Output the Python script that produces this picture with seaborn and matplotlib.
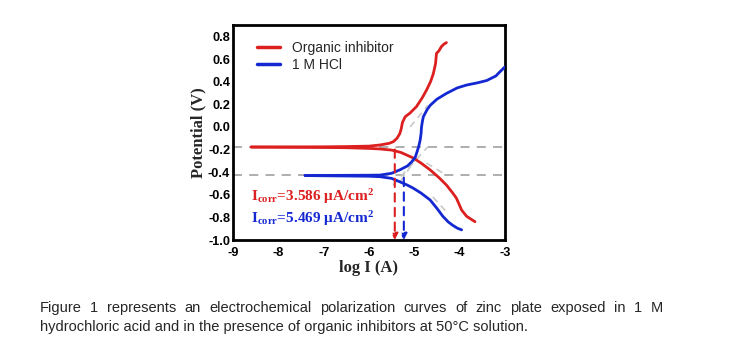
import numpy as np
import pandas as pd
import matplotlib
matplotlib.use("Agg")
import matplotlib.pyplot as plt
import seaborn as sns

# ---------------- data ----------------
red_cath_x = [-8.6, -8.0, -7.0, -6.5, -6.0, -5.76, -5.5, -5.3, -5.02, -4.85, -4.65, -4.45, -4.29, -4.15, -4.07, -3.955, -3.845, -3.75, -3.66]
red_cath_y = [-0.178, -0.18, -0.182, -0.184, -0.19, -0.195, -0.205, -0.225, -0.275, -0.32, -0.38, -0.45, -0.514, -0.585, -0.63, -0.735, -0.79, -0.815, -0.838]
red_anod_x = [-8.6, -8.0, -7.0, -6.5, -6.0, -5.76, -5.55, -5.46, -5.38, -5.32, -5.29, -5.26, -5.2, -5.1, -4.95, -4.82, -4.73, -4.64, -4.58, -4.53, -4.51, -4.46, -4.40, -4.35, -4.29]
red_anod_y = [-0.178, -0.177, -0.176, -0.174, -0.17, -0.16, -0.145, -0.13, -0.1, -0.06, -0.02, 0.04, 0.09, 0.12, 0.18, 0.26, 0.325, 0.40, 0.47, 0.56, 0.65, 0.67, 0.71, 0.73, 0.745]
blue_cath_x = [-7.41, -7.0, -6.5, -6.0, -5.76, -5.5, -5.32, -5.15, -5.03, -4.85, -4.65, -4.5, -4.37, -4.25, -4.15, -4.05, -3.955]
blue_cath_y = [-0.43, -0.432, -0.434, -0.436, -0.44, -0.455, -0.485, -0.515, -0.54, -0.585, -0.646, -0.72, -0.79, -0.84, -0.87, -0.895, -0.91]
blue_anod_x = [-7.41, -7.0, -6.5, -6.0, -5.76, -5.5, -5.32, -5.15, -5.06, -4.98, -4.95, -4.9, -4.87, -4.85, -4.84, -4.82, -4.80, -4.72, -4.65, -4.5, -4.29, -4.05, -3.845, -3.6, -3.4, -3.2, -3.11, -3.0]
blue_anod_y = [-0.43, -0.429, -0.428, -0.427, -0.426, -0.41, -0.38, -0.345, -0.31, -0.27, -0.234, -0.17, -0.117, -0.06, 0.0, 0.05, 0.09, 0.15, 0.19, 0.245, 0.296, 0.345, 0.37, 0.39, 0.41, 0.45, 0.487, 0.53]

# E_corr levels (gray dashed horizontals) and log Icorr (arrows)
ecorr_levels = [-0.176, -0.428]
arrow_x = [-5.43, -5.23]
arrow_top = [-0.2, -0.45]

# Tafel extrapolation segments: (x0, y0, x1, y1)
tafel_x0 = [-5.47, -5.09, -4.73, -4.59, -5.30]
tafel_y0 = [-0.515, 0.0, -0.32, -0.62, -0.48]
tafel_x1 = [-4.70, -4.70, -4.36, -4.29, -5.00]
tafel_y1 = [-0.176, 0.19, -0.41, -0.75, -0.30]

series_names = ["Organic inhibitor", "1 M HCl"]
icorr_texts = ["3.586", "5.469"]
xticks = [-9, -8, -7, -6, -5, -4, -3]
yticks = [0.8, 0.6, 0.4, 0.2, 0.0, -0.2, -0.4, -0.6, -0.8, -1.0]

caption1 = "Figure 1 represents an electrochemical polarization curves of zinc plate exposed in 1 M"
caption2 = "hydrochloric acid and in the presence of organic inhibitors at 50\u00b0C solution."

# ---------------- build table ----------------
frames = []
for name, branch, xs, ys in [
    (series_names[0], "rc", red_cath_x, red_cath_y),
    (series_names[0], "ra", red_anod_x, red_anod_y),
    (series_names[1], "bc", blue_cath_x, blue_cath_y),
    (series_names[1], "ba", blue_anod_x, blue_anod_y),
]:
    frames.append(pd.DataFrame({"logI": xs, "E": ys, "series": name, "branch": branch,
                                "order": range(len(xs))}))
df = pd.concat(frames, ignore_index=True)

RED = "#dc1f1f"
BLUE = "#1428d2"
GRAY = "#a8a8a8"

sns.set_style("white")
plt.rcParams["mathtext.fontset"] = "custom"
plt.rcParams["mathtext.rm"] = "Liberation Serif:bold"
plt.rcParams["mathtext.bf"] = "Liberation Serif:bold"
plt.rcParams["mathtext.it"] = "Liberation Serif:bold"

fig = plt.figure(figsize=(7.48, 3.53), dpi=100)
ax = fig.add_axes([0.3115, 0.320, 0.3635, 0.609])

# reference lines
for lv in ecorr_levels:
    ax.axhline(lv, color=GRAY, lw=1.3, ls=(0, (5, 4)), zorder=1)
for x0, y0, x1, y1 in zip(tafel_x0, tafel_y0, tafel_x1, tafel_y1):
    ax.plot([x0, x1], [y0, y1], color="#c8c8c8", lw=1.2, ls=(0, (4, 3)), zorder=1)

sns.lineplot(data=df, x="logI", y="E", hue="series", units="branch", estimator=None,
             sort=False, palette={series_names[0]: RED, series_names[1]: BLUE},
             lw=2.0, ax=ax, legend=False, zorder=3)

# icorr arrows
for xa, yt, c in zip(arrow_x, arrow_top, [RED, BLUE]):
    ax.annotate("", xy=(xa, -1.0), xytext=(xa, yt),
                arrowprops=dict(arrowstyle="-|>", color=c, lw=1.5, ls=(0, (4, 3)),
                                mutation_scale=9, shrinkA=0, shrinkB=0), zorder=4)

# Icorr texts
ax.text(-8.6, -0.615, r"I$_{\mathbf{corr}}$=" + icorr_texts[0] + r" μA/cm$^{\mathbf{2}}$",
        color=RED, fontsize=11, fontfamily="Liberation Serif", fontweight="bold", va="center")
ax.text(-8.6, -0.81, r"I$_{\mathbf{corr}}$=" + icorr_texts[1] + r" μA/cm$^{\mathbf{2}}$",
        color=BLUE, fontsize=11, fontfamily="Liberation Serif", fontweight="bold", va="center")

# legend
from matplotlib.lines import Line2D
handles = [Line2D([], [], color=RED, lw=2.5), Line2D([], [], color=BLUE, lw=2.5)]
ax.legend(handles, series_names, loc="upper left", bbox_to_anchor=(0.088, 0.925),
          frameon=False, handlelength=1.65, handletextpad=0.85, labelspacing=0.2,
          borderpad=0, borderaxespad=0, prop={"family": "Liberation Sans", "size": 10})

ax.set_xlim(-9, -3)
ax.set_ylim(-1.0, 0.9)
ax.set_xticks(xticks)
ax.set_yticks(yticks)
ax.set_xticklabels([str(t) for t in xticks])
ax.set_yticklabels([f"{t:.1f}" for t in yticks])
for lab in ax.get_xticklabels() + ax.get_yticklabels():
    lab.set_fontfamily("Liberation Sans")
    lab.set_fontweight("bold")
    lab.set_fontsize(9.2)
ax.tick_params(direction="in", length=4, width=1.5, colors="black", top=False, right=False)
ax.tick_params(axis="x", pad=5)
ax.tick_params(axis="y", pad=2)
for sp in ax.spines.values():
    sp.set_visible(True)
    sp.set_linewidth(2)
    sp.set_color("black")

ax.set_xlabel("log I (A)", fontfamily="Liberation Serif", fontweight="bold", fontsize=12, labelpad=1)
ax.set_ylabel("Potential (V)", fontfamily="Liberation Serif", fontweight="bold", fontsize=12, labelpad=1)

# caption (line 1 justified)
fig.canvas.draw()
renderer = fig.canvas.get_renderer()
W = fig.bbox.width
x_left, x_right = 40 / W, 663 / W
words = caption1.split()
texts = [fig.text(0, 0.1275, w, fontfamily="Liberation Sans", fontsize=10.5, va="center") for w in words]
widths = [t.get_window_extent(renderer).width / W for t in texts]
gap = (x_right - x_left - sum(widths)) / (len(words) - 1)
x = x_left
for t, w in zip(texts, widths):
    t.set_x(x)
    x += w + gap
fig.text(x_left, 0.0737, caption2, fontfamily="Liberation Sans", fontsize=10.5, va="center")

fig.savefig("out.png", dpi=100)
